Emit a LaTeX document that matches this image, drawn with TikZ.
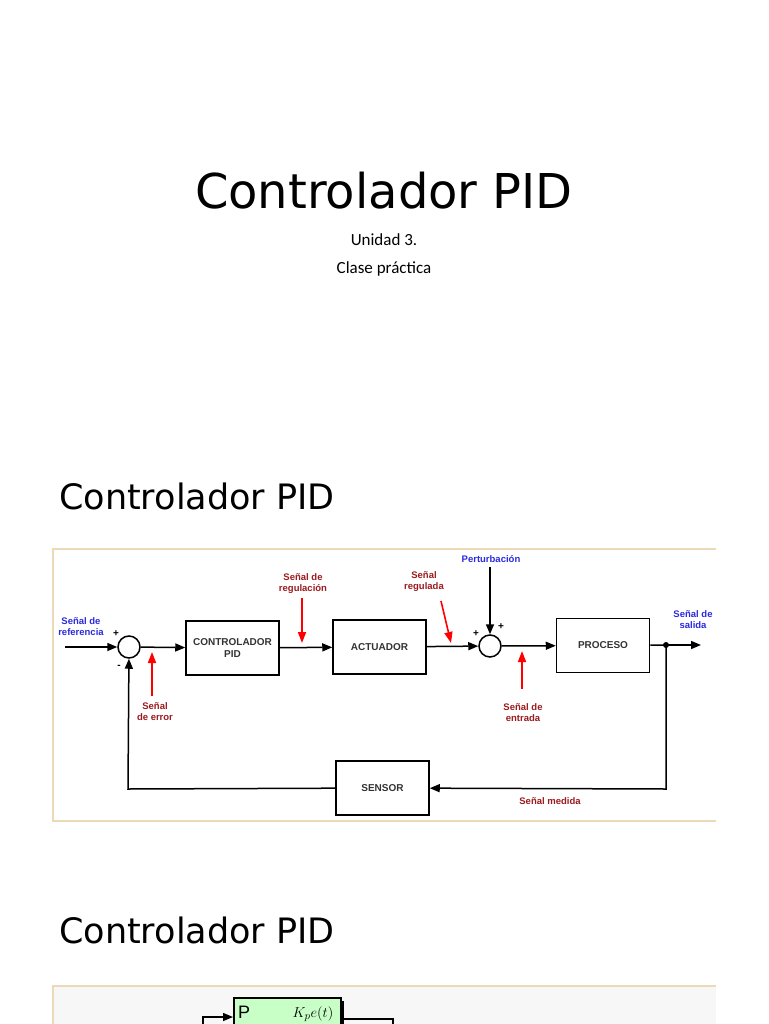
\documentclass[tikz,border=0pt]{standalone}
\usepackage{fontspec}
\setmainfont{DejaVu Sans}
\newfontfamily\calfnt{Carlito}
\newfontfamily\arl{Liberation Sans}
\usetikzlibrary{arrows.meta,shadows}
\definecolor{dred}{HTML}{9B1B1E}
\definecolor{pblue}{HTML}{2A2AE0}
\definecolor{tan}{HTML}{EBD9B8}
\begin{document}
\begin{tikzpicture}[x=1pt,y=-1pt,
  blk/.style={draw,line width=1.5pt,minimum width=93pt,minimum height=54pt,inner sep=0pt,font=\arl\bfseries\fontsize{10}{12}\selectfont,text=black!80,align=center},
  sum/.style={draw,line width=1.5pt,circle,minimum size=22pt,inner sep=0pt},
  sig/.style={line width=1.5pt,-{Triangle[length=10pt,width=8pt]}},
  red/.style={draw=red,line width=1.6pt,-{Triangle[length=11pt,width=8pt]}},
  lr/.style={text=dred,font=\arl\bfseries\fontsize{9.5}{11}\selectfont,align=center},
  lb/.style={text=pblue,font=\arl\bfseries\fontsize{9.5}{11}\selectfont,align=center},
  pm/.style={font=\arl\bfseries\fontsize{10}{10}\selectfont}]
\useasboundingbox (0,0) rectangle (768,1024);
\fill[white] (0,0) rectangle (768,1024);
\node (t) at (384,191) {\fontsize{48}{54}\selectfont Controlador PID};
\node (u) at (384,240) {\calfnt\fontsize{17}{19}\selectfont Unidad 3.};
\node (c) at (384,269) {\calfnt\fontsize{17}{19}\selectfont Clase práctica};
\node[anchor=west,inner sep=0pt] (h1) at (59,496) {\fontsize{35}{40}\selectfont Controlador PID};
\node[anchor=west,inner sep=0pt] (h2) at (59,930) {\fontsize{35}{40}\selectfont Controlador PID};
% frame 1
\draw[tan,line width=2pt] (716,549) -- (53,549) -- (53,821) -- (716,821);
\node[sum] (s1) at (129,647) {};
\node[blk] (pid) at (232.5,648) {CONTROLADOR\\PID};
\node[blk] (act) at (379.5,647) {ACTUADOR};
\node[sum] (s2) at (490,646) {};
\node[blk] (pro) at (603,645.5) {PROCESO};
\node[blk] (sen) at (382.5,788) {SENSOR};
\coordinate (in) at (65,647);
\fill (666,645) circle (3pt) coordinate (dot);
\coordinate (out) at (701,645);
\coordinate (fb) at (128,789);
\coordinate (fr) at (666,789);
\coordinate (pt) at (490,567);
\draw[sig] (in) -- (s1);
\draw[sig] (s1) -- (pid);
\draw[sig] (pid) -- (act);
\draw[sig] (act) -- (s2);
\draw[sig] (s2) -- (pro);
\draw[line width=1.5pt] (pro) -- (dot);
\draw[sig] (dot) -- (out);
\draw[sig] (dot) -- (fr) -- (sen);
\draw[sig] (sen) -- (fb) -- (s1);
\draw[sig] (pt) -- (s2);
\coordinate (r1a) at (302,598); \coordinate (r1b) at (302,643);
\coordinate (r2a) at (152,696); \coordinate (r2b) at (152,652);
\coordinate (r3a) at (441,601); \coordinate (r3b) at (451,643);
\coordinate (r4a) at (522,689); \coordinate (r4b) at (522,651);
\draw[red] (r1a) -- (r1b);
\draw[red] (r2a) -- (r2b);
\draw[red] (r3a) -- (r3b);
\draw[red] (r4a) -- (r4b);
\node[lb] (l1) at (81,627) {Señal de\\referencia};
\node[pm] (p1) at (116,634) {+};
\node[pm] (p2) at (119,667) {-};
\node[lr] (l2) at (303,584) {Señal de\\regulación};
\node[lr] (l3) at (424,582) {Señal\\regulada};
\node[lb] (l4) at (491,559) {Perturbación};
\node[pm] (p3) at (476,634) {+};
\node[pm] (p4) at (501,627) {+};
\node[lb] (l5) at (693,620) {Señal de\\salida};
\node[lr] (l6) at (155,712) {Señal\\de error};
\node[lr] (l7) at (523,713) {Señal de\\entrada};
\node[lr] (l8) at (550,801) {Señal medida};
% frame 2
\fill[black!3] (53,986) rectangle (716,1030);
\draw[tan,line width=2pt] (716,986) -- (53,986) -- (53,1030);
\node[draw,line width=1.5pt,fill=green!22,drop shadow={shadow xshift=3pt,shadow yshift=-3pt,fill=black,opacity=1},minimum width=107pt,minimum height=50pt,anchor=north west] (pb) at (233,997) {};
\node[anchor=west,inner sep=1pt,font=\arl\fontsize{18}{18}\selectfont] (pl) at (237,1012) {P};
\node (kp) at (313,1014) {\fontsize{15}{15}\selectfont $K_p e(t)$};
\coordinate (ia) at (203,1030); \coordinate (ib) at (203,1017); \coordinate (ic) at (233,1017);
\draw[sig] (ia) -- (ib) -- (ic);
\coordinate (oa) at (343,1019); \coordinate (ob) at (393,1019); \coordinate (oc) at (393,1030);
\draw[line width=1.5pt] (oa) -- (ob) -- (oc);
\end{tikzpicture}
\end{document}
